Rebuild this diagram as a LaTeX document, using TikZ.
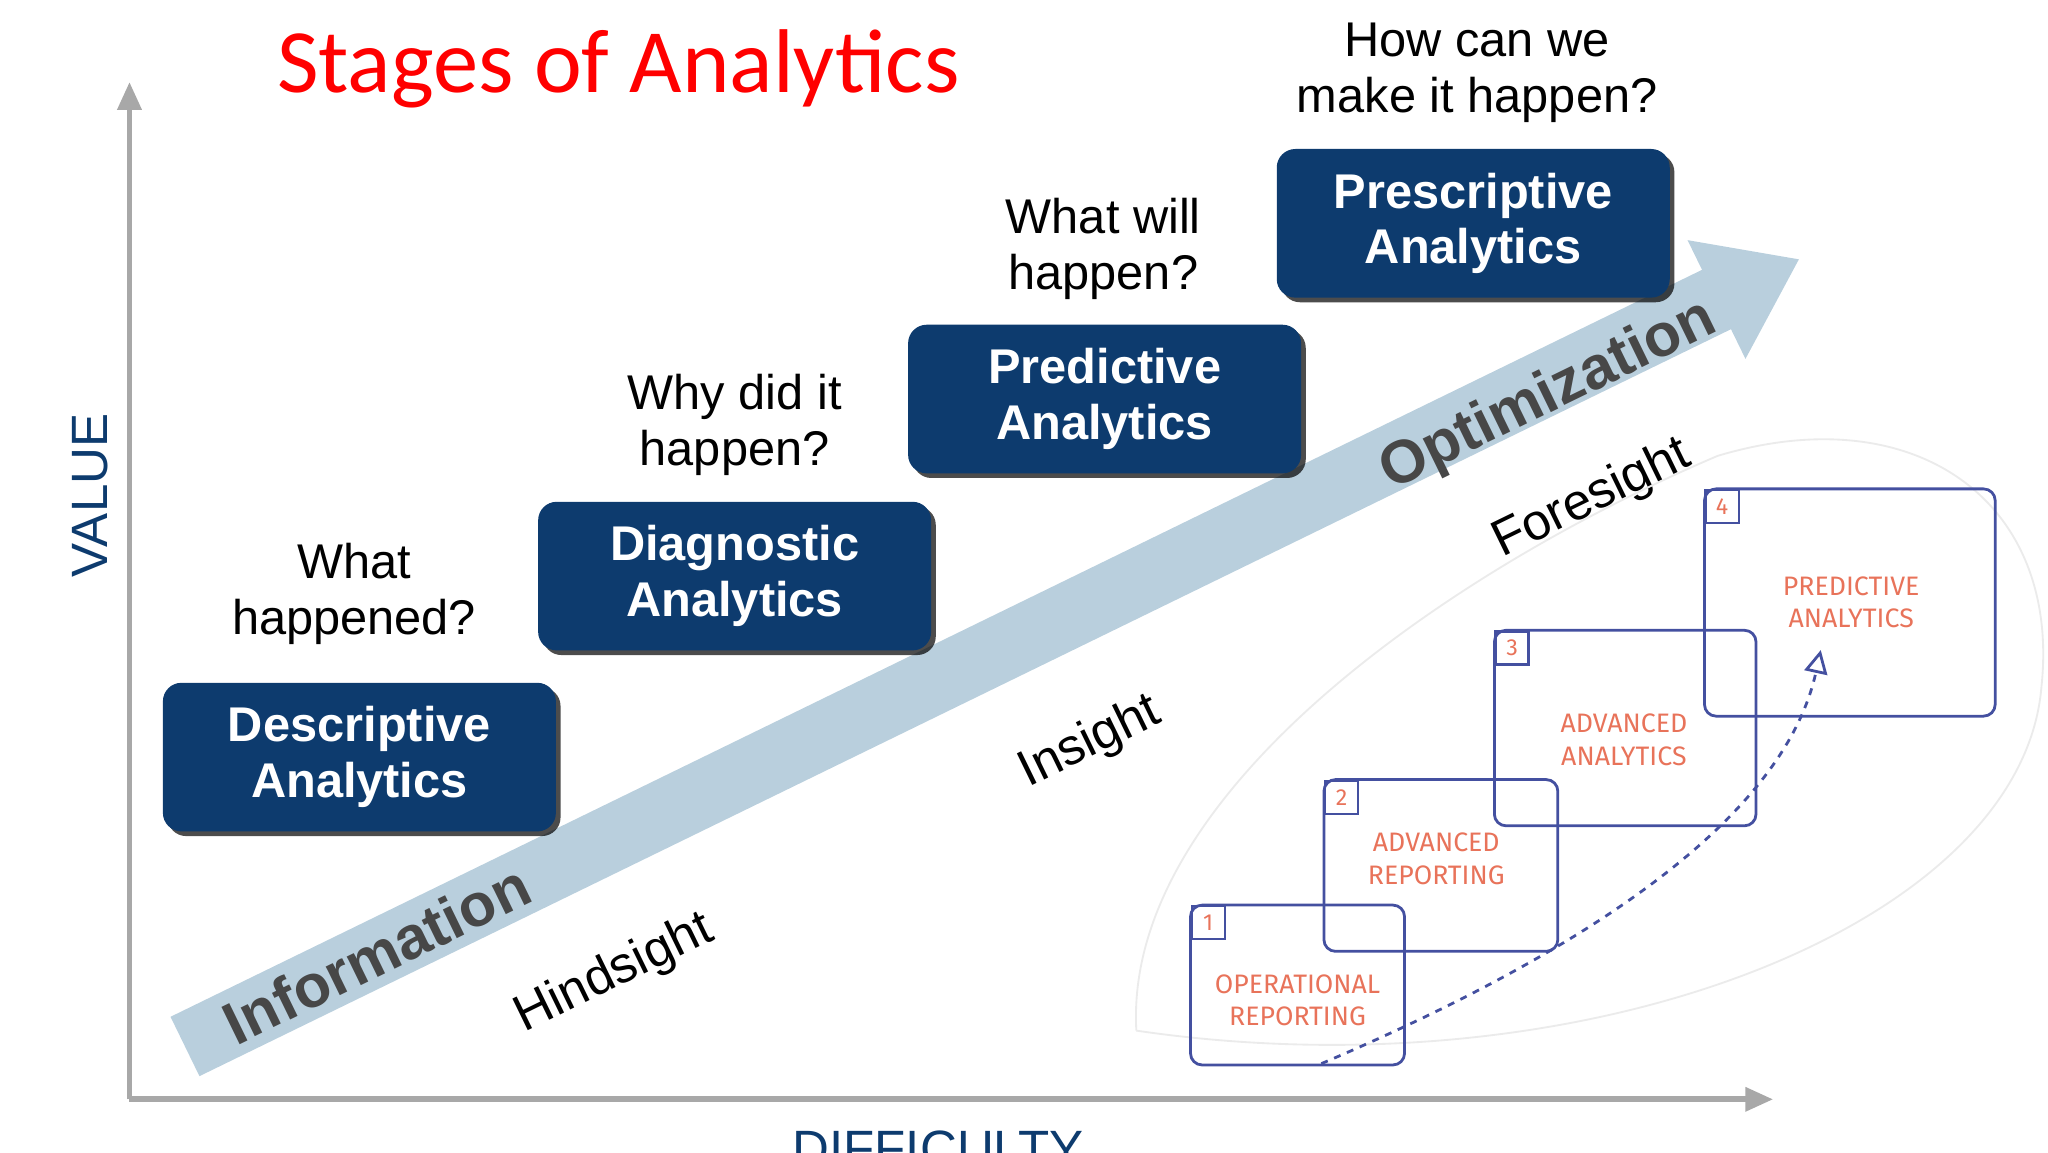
\documentclass[tikz,border=0pt]{standalone}
\usepackage{fontspec}
\setmainfont{Liberation Sans}
\newfontfamily\titlefont{Carlito}
\newfontfamily\insetfont{Fira Sans}
\usetikzlibrary{arrows.meta,shadows}
\definecolor{navy}{HTML}{0D3B6E}
\definecolor{arrowblue}{HTML}{B9CFDD}
\definecolor{insetblue}{HTML}{4450A0}
\definecolor{salmon}{HTML}{E8735A}
\definecolor{axisgray}{HTML}{A8A8A8}
\tikzset{
 stagebox/.style={fill=navy,rounded corners=8pt,minimum width=5.95cm,minimum height=2.25cm,text=white,font=\bfseries\fontsize{21}{24}\selectfont,align=center,drop shadow={shadow xshift=2pt,shadow yshift=-2pt,opacity=0.7,fill=black}},
 question/.style={font=\fontsize{21}{24}\selectfont,align=center},
 sight/.style={font=\fontsize{22}{24}\selectfont,rotate=26},
 flow/.style={font=\bfseries\fontsize{26}{28}\selectfont,text=black!72,rotate=26},
 insetbox/.style={draw=insetblue,line width=1.2pt,rounded corners=5pt},
 insettext/.style={font=\insetfont\fontsize{11.5}{14}\selectfont,text=salmon,align=center},
 tab/.style={draw=insetblue,line width=1pt,minimum size=0.5cm,inner sep=0pt,font=\insetfont\fontsize{10}{10}\selectfont,text=salmon,anchor=north west},
}
\begin{document}
\begin{tikzpicture}[x=0.02cm,y=-0.02cm]
\useasboundingbox (0,0) rectangle (1550,872);
\node[font=\titlefont\fontsize{39}{42}\selectfont,text=red] (title) at (468,52) {Stages of Analytics};
\coordinate (o) at (98,832);
\coordinate (ytop) at (98,62);
\coordinate (xend) at (1342,832);
\draw[axisgray,line width=2.5pt,-{Triangle[length=12pt,width=10pt]}] (o) -- (ytop);
\draw[axisgray,line width=2.5pt,-{Triangle[length=12pt,width=10pt]}] (o) -- (xend);
\node[rotate=90,font=\fontsize{22}{24}\selectfont,text=navy] (value) at (68,375) {VALUE};
\node[font=\fontsize{22}{24}\selectfont,text=navy,anchor=north] (diff) at (710,850) {DIFFICULTY};
\coordinate (as) at (140,792);
\coordinate (ae) at (1362,196);
\draw[arrowblue,line width=1cm,-{Triangle[length=1.4cm,width=1.9cm]}] (as) -- (ae);
\node[flow] (info) at (285,722) {Information};
\node[flow] (opt) at (1172,300) {Optimization};
\node[stagebox] (d1) at (272,573) {Descriptive\\Analytics};
\node[stagebox] (d2) at (556,436) {Diagnostic\\Analytics};
\node[stagebox] (d3) at (836,302) {Predictive\\Analytics};
\node[stagebox] (d4) at (1115,169) {Prescriptive\\Analytics};
\node[question,anchor=south] (q1) at (268,494) {What\\happened?};
\node[question,anchor=south] (q2) at (556,366) {Why did it\\happen?};
\node[question,anchor=south] (q3) at (835,233) {What will\\happen?};
\node[question,anchor=south] (q4) at (1118,99) {How can we\\make it happen?};
\node[sight] (h) at (465,737) {Hindsight};
\node[sight] (i) at (825,562) {Insight};
\node[sight] (f) at (1205,378) {Foresight};
\draw[black!8,line width=0.8pt] (860,780) .. controls (850,600) and (1100,430) .. (1300,345) .. controls (1450,300) and (1560,380) .. (1545,520) .. controls (1530,700) and (1200,830) .. (860,780);
\draw[insetbox] (901,685) rectangle (1063,806);
\draw[insetbox] (1002,590) rectangle (1179,720);
\draw[insetbox] (1131,477) rectangle (1329,625);
\draw[insetbox] (1290,370) rectangle (1510,542);
\node[tab] (t1) at (901,685) {1};
\node[tab] (t2) at (1002,590) {2};
\node[tab] (t3) at (1131,477) {3};
\node[tab] (t4) at (1290,370) {4};
\node[insettext] (l1) at (982,757) {OPERATIONAL\\REPORTING};
\node[insettext] (l2) at (1087,650) {ADVANCED\\REPORTING};
\node[insettext] (l3) at (1229,560) {ADVANCED\\ANALYTICS};
\node[insettext] (l4) at (1401,456) {PREDICTIVE\\ANALYTICS};
\coordinate (cs) at (1000,805);
\coordinate (ce) at (1378,492);
\draw[insetblue,dashed,line width=1.2pt,-{Triangle[open,length=10pt,width=10pt]}] (cs) .. controls (1200,720) and (1350,620) .. (ce);
\end{tikzpicture}
\end{document}
